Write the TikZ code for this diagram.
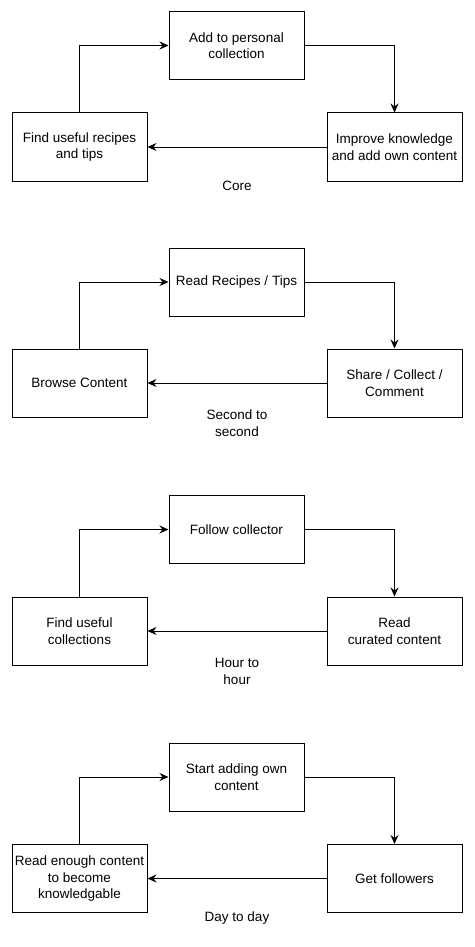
\documentclass[tikz,border=0pt]{standalone}
\usepackage{fontspec}
\setmainfont{Liberation Sans}
\usetikzlibrary{arrows.meta}
\begin{document}
\begin{tikzpicture}[x=1pt,y=-1pt,
  box/.style={draw,line width=1pt,minimum width=135pt,minimum height=68pt,inner sep=0pt,align=center,font=\fontsize{13.5}{16.5}\selectfont},
  link/.style={line width=1pt,-{Stealth[length=9pt,width=8pt,inset=3pt]}},
  lbl/.style={align=center,inner sep=0pt,font=\fontsize{13.5}{17}\selectfont}]
\useasboundingbox (0,0) rectangle (474,947);
% Core
\node[box] (T1) at (236.5,45.5) {Add to personal\\collection};
\node[box] (L1) at (79.5,147) {Find useful recipes\\and tips};
\node[box] (R1) at (394.5,147) {Improve knowledge\\and add own content};
\node[lbl] (C1) at (237,186) {Core};
\draw[link] (L1.north) |- (T1.west);
\draw[link] (T1.east) -| (R1.north);
\draw[link] (R1.west) -- (L1.east);
% Second to second
\node[box] (T2) at (236.5,282) {Read Recipes / Tips};
\node[box] (L2) at (79.5,383) {Browse Content};
\node[box] (R2) at (394.5,383) {Share / Collect /\\Comment};
\node[lbl] (C2) at (237,423) {Second to\\second};
\draw[link] (L2.north) |- (T2.west);
\draw[link] (T2.east) -| (R2.north);
\draw[link] (R2.west) -- (L2.east);
% Hour to hour
\node[box] (T3) at (236.5,529.5) {Follow collector};
\node[box] (L3) at (79.5,631) {Find useful\\collections};
\node[box] (R3) at (394.5,631) {Read\\curated content};
\node[lbl] (C3) at (237,671) {Hour to\\hour};
\draw[link] (L3.north) |- (T3.west);
\draw[link] (T3.east) -| (R3.north);
\draw[link] (R3.west) -- (L3.east);
% Day to day
\node[box] (T4) at (236.5,777) {Start adding own\\content};
\node[box] (L4) at (79.5,878.5) {Read enough content\\to become\\knowledgable};
\node[box] (R4) at (394.5,878.5) {Get followers};
\node[lbl] (C4) at (237,918) {Day to day};
\draw[link] (L4.north) |- (T4.west);
\draw[link] (T4.east) -| (R4.north);
\draw[link] (R4.west) -- (L4.east);
\end{tikzpicture}
\end{document}
